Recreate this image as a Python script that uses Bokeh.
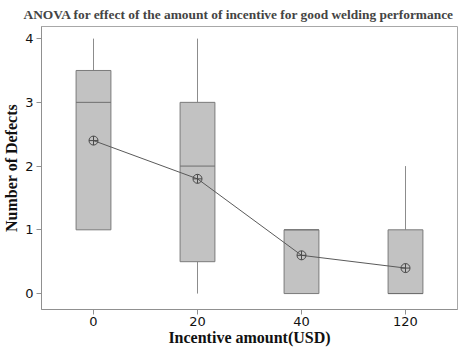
from bokeh.plotting import figure
from bokeh.models import FactorRange, Range1d, ColumnDataSource
from bokeh.transform import dodge
from bokeh.embed import file_html
from bokeh.resources import INLINE

categories = ["0", "20", "40", "120"]
whisker_low = [1, 0, 0, 0]
q1 = [1, 0.5, 0, 0]
median = [3, 2, 1, 0]
q3 = [3.5, 3, 1, 1]
whisker_high = [4, 4, 1, 2]
means = [2.4, 1.8, 0.6, 0.4]

src = ColumnDataSource(dict(x=categories, lo=whisker_low, q1=q1, med=median,
                            q3=q3, hi=whisker_high, mean=means))

p = figure(width=458, height=348, output_backend="svg", toolbar_location=None,
           x_range=FactorRange(factors=categories, range_padding=0),
           y_range=Range1d(-0.25, 4.19),
           min_border_left=0, min_border_right=1, min_border_top=0, min_border_bottom=0)

p.title.text = "ANOVA for effect of the amount of incentive for good welding performance"
p.title.text_font = "Liberation Serif"
p.title.text_font_size = "13.4px"
p.title.text_font_style = "bold"
p.title.align = "left"
p.title.standoff = 9
p.title.offset = -18

BOXW = 0.335
p.segment(x0="x", y0="q3", x1="x", y1="hi", source=src, line_color="#8c8c8c", line_width=1)
p.segment(x0="x", y0="lo", x1="x", y1="q1", source=src, line_color="#8c8c8c", line_width=1)
p.vbar(x="x", bottom="q1", top="q3", width=BOXW, source=src,
       fill_color="#c2c2c2", line_color="#7a7a7a", line_width=1)
p.segment(x0=dodge("x", -BOXW / 2, range=p.x_range), y0="med",
          x1=dodge("x", BOXW / 2, range=p.x_range), y1="med",
          source=src, line_color="#6e6e6e", line_width=1)
p.line(x="x", y="mean", source=src, line_color="#5a5a5a", line_width=1)
p.scatter(x="x", y="mean", source=src, marker="circle_cross", size=9,
          fill_color=None, line_color="#4a4a4a", line_width=1)

p.xgrid.visible = False
p.ygrid.visible = False
p.outline_line_color = "#a8a8a8"
p.background_fill_color = "white"

for ax in (p.xaxis, p.yaxis):
    ax.axis_line_color = "#909090"
    ax.major_tick_line_color = "#909090"
    ax.major_tick_out = 5
    ax.major_tick_in = 0
    ax.minor_tick_line_color = None
    ax.major_label_text_font = "DejaVu Sans"
    ax.major_label_text_font_size = "13px"
    ax.major_label_text_color = "#111111"
    ax.axis_label_text_font = "Liberation Serif"
    ax.axis_label_text_font_size = "16px"
    ax.axis_label_text_font_style = "bold"
    ax.axis_label_text_color = "#111111"

p.xaxis.axis_label = "Incentive amount(USD)"
p.yaxis.axis_label = "Number of Defects"
p.yaxis.ticker = [0, 1, 2, 3, 4]
p.xaxis.major_label_standoff = 2
p.yaxis.major_label_standoff = 3
p.xaxis.axis_label_standoff = 0
p.yaxis.axis_label_standoff = 2

open("out.html", "w").write(file_html(p, INLINE))
